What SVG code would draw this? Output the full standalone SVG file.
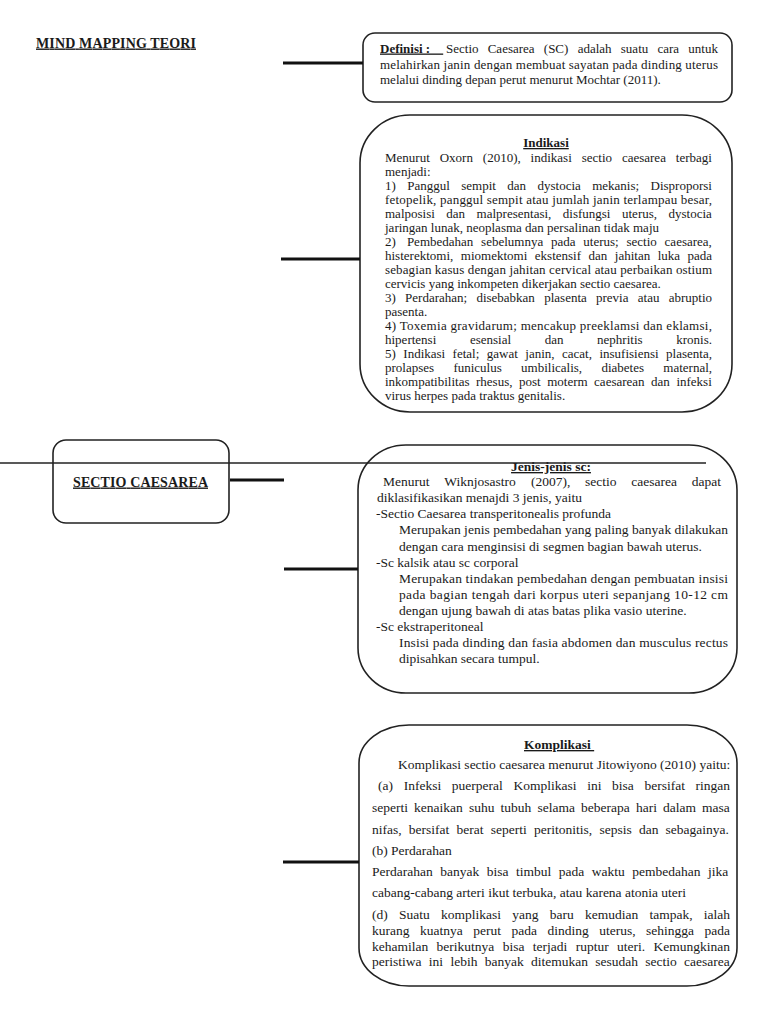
<svg xmlns="http://www.w3.org/2000/svg" width="768" height="1024" viewBox="0 0 768 1024">
<style>
.t{font-family:"Liberation Serif","Times New Roman",serif;fill:#1a1a1a}
.s13{font-size:13px}
.s135{font-size:13.5px}
.s14{font-size:14px}
.h{font-weight:bold;text-decoration:underline}
.box{fill:#fff;stroke:#222;stroke-width:1.6}
.conn{stroke:#111;stroke-width:3;fill:none}
.axis{stroke:#222;stroke-width:1.5;fill:none}
</style>
<rect width="768" height="1024" fill="#fff"/>
<g id="title">
<text class="t s14 h" x="36" y="47.5" textLength="160" lengthAdjust="spacing">MIND MAPPING TEORI</text>
</g>
<g id="node-definisi">
<rect class="box" x="363" y="33" width="369" height="69" rx="12"/>
<text class="t s13" y="52.5"><tspan class="h" x="380">Definisi :&#160;&#160;&#160;&#160;</tspan><tspan x="446">Sectio</tspan><tspan x="487.7">Caesarea</tspan><tspan x="543.8">(SC)</tspan><tspan x="577.7">adalah</tspan><tspan x="620.8">suatu</tspan><tspan x="657.5">cara</tspan><tspan x="688.3">untuk</tspan></text>
<text class="t s13" x="380" y="68.5" textLength="338" lengthAdjust="spacing">melahirkan janin dengan membuat sayatan pada dinding uterus</text>
<text class="t s13" x="380" y="84">melalui dinding depan perut menurut Mochtar (2011).</text>
</g>
<g id="node-indikasi">
<rect class="box" x="360" y="115" width="372" height="297" rx="50" ry="48"/>
<text class="t s13 h" x="546" y="147" text-anchor="middle">Indikasi</text>
<text class="t s13" y="162"><tspan x="385">Menurut</tspan><tspan x="439.7">Oxorn</tspan><tspan x="482.8">(2010),</tspan><tspan x="530.6">indikasi</tspan><tspan x="581.7">sectio</tspan><tspan x="621.9">caesarea</tspan><tspan x="675.8">terbagi</tspan></text>
<text class="t s13" x="385" y="176">menjadi:</text>
<text class="t s13" y="190"><tspan x="385">1)</tspan><tspan x="407.2">Panggul</tspan><tspan x="461.2">sempit</tspan><tspan x="507.3">dan</tspan><tspan x="537.5">dystocia</tspan><tspan x="592.2">mekanis;</tspan><tspan x="650.5">Disproporsi</tspan></text>
<text class="t s13" x="385" y="204" textLength="327" lengthAdjust="spacing">fetopelik, panggul sempit atau jumlah janin terlampau besar,</text>
<text class="t s13" y="218"><tspan x="385">malposisi</tspan><tspan x="446.3">dan</tspan><tspan x="476.6">malpresentasi,</tspan><tspan x="562.8">disfungsi</tspan><tspan x="622">uterus,</tspan><tspan x="668.5">dystocia</tspan></text>
<text class="t s13" x="385" y="232">jaringan lunak, neoplasma dan persalinan tidak maju</text>
<text class="t s13" y="246"><tspan x="385">2)</tspan><tspan x="406.9">Pembedahan</tspan><tspan x="481.1">sebelumnya</tspan><tspan x="551">pada</tspan><tspan x="583.3">uterus;</tspan><tspan x="626.5">sectio</tspan><tspan x="664.6">caesarea,</tspan></text>
<text class="t s13" y="260"><tspan x="385">histerektomi,</tspan><tspan x="460.8">miomektomi</tspan><tspan x="534.8">ekstensif</tspan><tspan x="588.5">dan</tspan><tspan x="614.8">jahitan</tspan><tspan x="657.7">luka</tspan><tspan x="687.6">pada</tspan></text>
<text class="t s13" x="385" y="274" textLength="327" lengthAdjust="spacing">sebagian kasus dengan jahitan cervical atau perbaikan ostium</text>
<text class="t s13" x="385" y="288">cervicis yang inkompeten dikerjakan sectio caesarea.</text>
<text class="t s13" y="302"><tspan x="385">3)</tspan><tspan x="405.1">Perdarahan;</tspan><tspan x="476.4">disebabkan</tspan><tspan x="544.2">plasenta</tspan><tspan x="596">previa</tspan><tspan x="637.8">atau</tspan><tspan x="668.7">abruptio</tspan></text>
<text class="t s13" x="385" y="316">pasenta.</text>
<text class="t s13" x="385" y="330" textLength="327" lengthAdjust="spacing">4) Toxemia gravidarum; mencakup preeklamsi dan eklamsi,</text>
<text class="t s13" y="344"><tspan x="385">hipertensi</tspan><tspan x="469.9">esensial</tspan><tspan x="544.7">dan</tspan><tspan x="597.1">nephritis</tspan><tspan x="676.2">kronis.</tspan></text>
<text class="t s13" y="358"><tspan x="385">5)</tspan><tspan x="403.3">Indikasi</tspan><tspan x="452.6">fetal;</tspan><tspan x="486.8">gawat</tspan><tspan x="525.3">janin,</tspan><tspan x="562">cacat,</tspan><tspan x="599.4">insufisiensi</tspan><tspan x="666.1">plasenta,</tspan></text>
<text class="t s13" y="372"><tspan x="385">prolapses</tspan><tspan x="453.4">funiculus</tspan><tspan x="521.1">umbilicalis,</tspan><tspan x="601.4">diabetes</tspan><tspan x="663.3">maternal,</tspan></text>
<text class="t s13" y="386"><tspan x="385">inkompatibilitas</tspan><tspan x="476">rhesus,</tspan><tspan x="519">post</tspan><tspan x="547.2">moterm</tspan><tspan x="594.1">caesarean</tspan><tspan x="651.1">dan</tspan><tspan x="676.4">infeksi</tspan></text>
<text class="t s13" x="385" y="400">virus herpes pada traktus genitalis.</text>
</g>
<g id="node-sectio-caesarea">
<rect class="box" x="53" y="440" width="176" height="83" rx="13"/>
<text class="t s14 h" x="73" y="486.5" textLength="135" lengthAdjust="spacing">SECTIO CAESAREA</text>
</g>
<g id="node-jenis">
<rect class="box" x="358" y="445" width="379" height="248" rx="48" ry="45"/>
<text class="t s135 h" x="551" y="471" text-anchor="middle">Jenis-jenis sc:</text>
<text class="t s135" y="486"><tspan x="383">Menurut</tspan><tspan x="444.2">Wiknjosastro</tspan><tspan x="530.9">(2007),</tspan><tspan x="585.1">sectio</tspan><tspan x="631.3">caesarea</tspan><tspan x="691.8">dapat</tspan></text>
<text class="t s135" x="377" y="502">diklasifikasikan menajdi 3 jenis, yaitu</text>
<text class="t s135" x="376" y="518">-Sectio Caesarea transperitonealis profunda</text>
<text class="t s135" x="399" y="534" textLength="329" lengthAdjust="spacing">Merupakan jenis pembedahan yang paling banyak dilakukan</text>
<text class="t s135" x="399" y="550.5">dengan cara menginsisi di segmen bagian bawah uterus.</text>
<text class="t s135" x="376" y="566.5">-Sc kalsik atau sc corporal</text>
<text class="t s135" x="399" y="582.5" textLength="329" lengthAdjust="spacing">Merupakan tindakan pembedahan dengan pembuatan insisi</text>
<text class="t s135" x="399" y="598.5" textLength="329" lengthAdjust="spacing">pada bagian tengah dari korpus uteri sepanjang 10-12 cm</text>
<text class="t s135" x="399" y="615">dengan ujung bawah di atas batas plika vasio uterine.</text>
<text class="t s135" x="376" y="631">-Sc ekstraperitoneal</text>
<text class="t s135" x="399" y="647" textLength="329" lengthAdjust="spacing">Insisi pada dinding dan fasia abdomen dan musculus rectus</text>
<text class="t s135" x="399" y="663">dipisahkan secara tumpul.</text>
</g>
<g id="node-komplikasi">
<rect class="box" x="359" y="725" width="378" height="261" rx="50" ry="38"/>
<text class="t s135 h" x="524" y="749">Komplikasi&#160;</text>
<text class="t s135" x="398" y="769">Komplikasi sectio caesarea menurut Jitowiyono (2010) yaitu:</text>
<text class="t s135" y="790"><tspan x="378">(a)</tspan><tspan x="403.7">Infeksi</tspan><tspan x="451.8">puerperal</tspan><tspan x="513.5">Komplikasi</tspan><tspan x="587.2">ini</tspan><tspan x="612.1">bisa</tspan><tspan x="644.5">bersifat</tspan><tspan x="695.6">ringan</tspan></text>
<text class="t s135" y="812"><tspan x="372">seperti</tspan><tspan x="414.1">kenaikan</tspan><tspan x="468.9">suhu</tspan><tspan x="500.6">tubuh</tspan><tspan x="537.5">selama</tspan><tspan x="581.1">beberapa</tspan><tspan x="635.9">hari</tspan><tspan x="663">dalam</tspan><tspan x="702.1">masa</tspan></text>
<text class="t s135" y="834"><tspan x="372">nifas,</tspan><tspan x="408.8">bersifat</tspan><tspan x="456.5">berat</tspan><tspan x="490.8">seperti</tspan><tspan x="534">peritonitis,</tspan><tspan x="599.4">sepsis</tspan><tspan x="638.9">dan</tspan><tspan x="665.6">sebagainya.</tspan></text>
<text class="t s135" x="372" y="855">(b) Perdarahan</text>
<text class="t s135" y="876"><tspan x="372">Perdarahan</tspan><tspan x="440.2">banyak</tspan><tspan x="486.7">bisa</tspan><tspan x="515.9">timbul</tspan><tspan x="558.7">pada</tspan><tspan x="591.7">waktu</tspan><tspan x="632.2">pembedahan</tspan><tspan x="707.9">jika</tspan></text>
<text class="t s135" x="372" y="897">cabang-cabang arteri ikut terbuka, atau karena atonia uteri</text>
<text class="t s135" y="919"><tspan x="372">(d)</tspan><tspan x="399">Suatu</tspan><tspan x="441">komplikasi</tspan><tspan x="512.2">yang</tspan><tspan x="549.7">baru</tspan><tspan x="584.9">kemudian</tspan><tspan x="649.4">tampak,</tspan><tspan x="703.7">ialah</tspan></text>
<text class="t s135" y="935"><tspan x="372">kurang</tspan><tspan x="420">kuatnya</tspan><tspan x="473.2">perut</tspan><tspan x="511.4">pada</tspan><tspan x="547.4">dinding</tspan><tspan x="599.2">uterus,</tspan><tspan x="646.1">sehingga</tspan><tspan x="704.6">pada</tspan></text>
<text class="t s135" y="950.5"><tspan x="372">kehamilan</tspan><tspan x="436.6">berikutnya</tspan><tspan x="502.7">bisa</tspan><tspan x="532.8">terjadi</tspan><tspan x="575.7">ruptur</tspan><tspan x="617.1">uteri.</tspan><tspan x="653.6">Kemungkinan</tspan></text>
<text class="t s135" y="966"><tspan x="372">peristiwa</tspan><tspan x="428.8">ini</tspan><tspan x="450.4">lebih</tspan><tspan x="484.7">banyak</tspan><tspan x="531">ditemukan</tspan><tspan x="595.3">sesudah</tspan><tspan x="645.3">sectio</tspan><tspan x="684.1">caesarea</tspan></text>
</g>
<g id="connectors">
<line class="axis" x1="0" y1="463" x2="706" y2="463"/>
<line class="conn" x1="230" y1="480" x2="284" y2="480"/>
<line class="conn" x1="283" y1="63" x2="363" y2="63"/>
<line class="conn" x1="281" y1="259" x2="360" y2="259"/>
<line class="conn" x1="284" y1="569" x2="358" y2="569"/>
<line class="conn" x1="283" y1="862" x2="359" y2="862"/>
</g>
</svg>
